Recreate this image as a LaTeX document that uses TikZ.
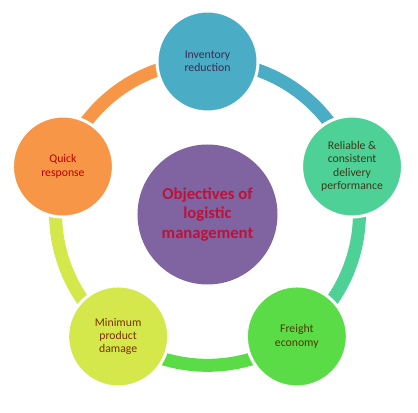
\documentclass[tikz,border=0pt]{standalone}
\usepackage{fontspec}
\setmainfont{Carlito}
\usetikzlibrary{backgrounds}
\definecolor{objpurple}{HTML}{8064A2}
\definecolor{objred}{HTML}{BC1238}
\definecolor{invblue}{HTML}{4BACC6}
\definecolor{invtext}{HTML}{3F2A52}
\definecolor{relgreen}{HTML}{4ED197}
\definecolor{reltext}{HTML}{3A3A18}
\definecolor{frgreen}{HTML}{5ADC46}
\definecolor{frtext}{HTML}{4A3A00}
\definecolor{minyellow}{HTML}{D4E84B}
\definecolor{mintext}{HTML}{7A3000}
\definecolor{qorange}{HTML}{F79646}
\definecolor{qtext}{HTML}{C00000}
\tikzset{
  goal/.style = {circle, draw = white, line width = 2.25pt, minimum size = 75.75pt,
                 inner sep = 0pt, align = center, font = \fontsize{8.8}{10}\selectfont},
  ring/.style = {line width = 9.75pt, looseness = 0.94},
}
\begin{document}
\begin{tikzpicture}[x = 0.75pt, y = 0.75pt]
		\useasboundingbox (-207.5,-199.5) rectangle (210.5,213.5);
		\node [circle, fill = objpurple, minimum size = 105pt, inner sep = 0pt, align = center, text = objred,
		       font = \bfseries\fontsize{12.5}{14.5}\selectfont] (obj) at (0,-1) {Objectives of\\logistic\\management};
		\node [goal, fill = invblue, text = invtext] (inv) at (90:152) {Inventory\\reduction};
		\node [goal, fill = relgreen, text = reltext] (rel) at (18:152) {Reliable \&\\consistent\\delivery\\performance};
		\node [goal, fill = frgreen, text = frtext] (fre) at (-54:152) {Freight\\economy};
		\node [goal, fill = minyellow, text = mintext] (mind) at (-126:152) {Minimum\\product\\damage};
		\node [goal, fill = qorange, text = qtext] (quick) at (162:152) {Quick\\response};
		\begin{pgfonlayer}{background}
			\draw [ring, invblue] (inv.center) to [out = 0, in = 108] (rel.center);
			\draw [ring, relgreen] (rel.center) to [out = -72, in = 36] (fre.center);
			\draw [ring, frgreen] (fre.center) to [out = -144, in = -36] (mind.center);
			\draw [ring, minyellow] (mind.center) to [out = 144, in = -108] (quick.center);
			\draw [ring, qorange] (quick.center) to [out = 72, in = 180] (inv.center);
		\end{pgfonlayer}
	\end{tikzpicture}
\end{document}
